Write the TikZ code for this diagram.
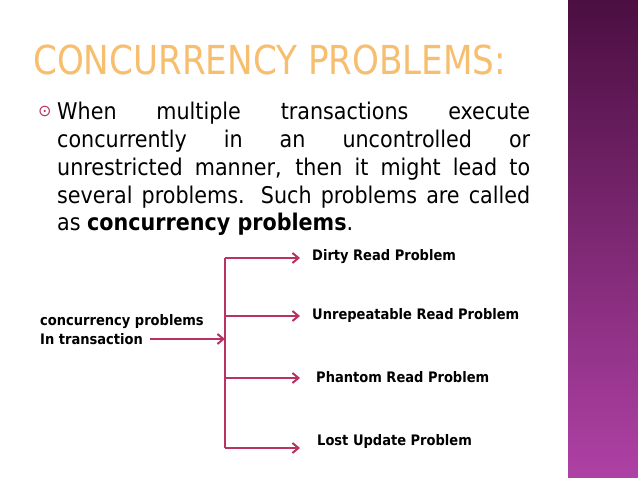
\documentclass[tikz,border=0pt]{standalone}
\usepackage{fontspec}
\setmainfont{DejaVu Sans Condensed}
\newfontfamily\symf{DejaVu Sans}
\usetikzlibrary{arrows.meta}
\definecolor{arr}{RGB}{185,50,100}
\definecolor{ttl}{RGB}{246,190,110}
\definecolor{bartop}{RGB}{75,15,65}
\definecolor{barbot}{RGB}{175,65,165}
\begin{document}
\begin{tikzpicture}[x=1pt,y=-1pt,
  con/.style={draw=arr,line width=2.2pt},
  arw/.style={con,-{Straight Barb[length=6pt,width=10pt,line width=2pt]}},
  lbl/.style={anchor=west,font=\fontsize{14.5}{17}\selectfont\bfseries,inner sep=0pt},
  body/.style={anchor=base west,inner sep=0pt,font=\fontsize{23}{28}\selectfont}]
\useasboundingbox (0,0) rectangle (638,478);
\fill[white] (0,0) rectangle (638,478);
\shade[top color=bartop,bottom color=barbot] (568,0) rectangle (638,478);
\node[anchor=west,inner sep=0pt,text=ttl,font=\fontsize{38}{40}\selectfont] (title) at (33,60) {\scalebox{1}[1.05]{CONCURRENCY PROBLEMS:}};
\node[anchor=base west,inner sep=0pt,text=arr,font=\symf\fontsize{16}{18}\selectfont] (bul) at (38,117) {⊙};
\node[body] (l1) at (57,120) {\makebox[473pt][s]{When multiple transactions execute}};
\node[body] (l2) at (57,148) {\makebox[473pt][s]{concurrently in an uncontrolled or}};
\node[body] (l3) at (57,176) {\makebox[473pt][s]{unrestricted manner, then it might lead to}};
\node[body] (l4) at (57,204) {\makebox[473pt][s]{several problems. Such problems are called}};
\node[body] (l5) at (57,231) {as \textbf{concurrency problems}.};
\node[anchor=north west,inner sep=0pt,align=left,font=\fontsize{14.5}{19}\selectfont\bfseries] (src) at (40,314) {concurrency problems\\In transaction};
\coordinate (top) at (225,258);
\coordinate (bot) at (225,448);
\coordinate (b2) at (225,316);
\coordinate (b3) at (225,378);
\coordinate (in) at (225,339);
\coordinate (st) at (150,339);
\node[lbl] (d) at (312,257) {Dirty Read Problem};
\node[lbl] (u) at (312,316) {Unrepeatable Read Problem};
\node[lbl] (p) at (316,377) {Phantom Read Problem};
\node[lbl] (l) at (317,442) {Lost Update Problem};
\draw[con] (top) -- (bot);
\draw[arw] (top) -- (300,258);
\draw[arw] (b2) -- (300,316);
\draw[arw] (b3) -- (300,378);
\draw[arw] (bot) -- (300,448);
\draw[arw] (st) -- (in);
\end{tikzpicture}
\end{document}
